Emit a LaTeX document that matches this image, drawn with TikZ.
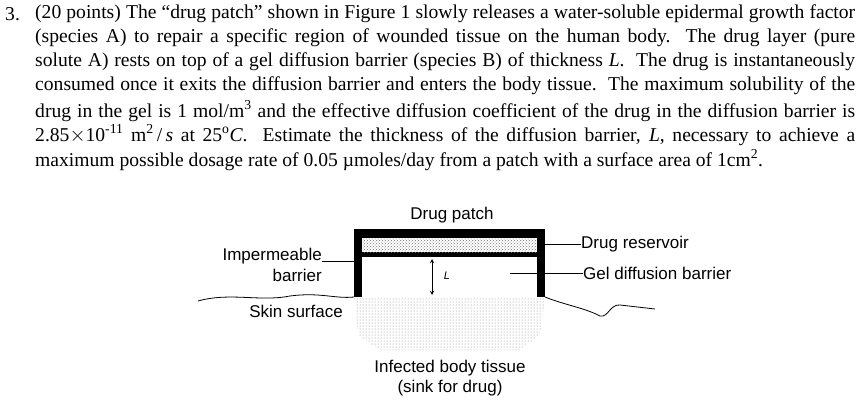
\documentclass[tikz,border=0pt]{standalone}
\usepackage{fontspec}
\setmainfont{Liberation Serif}
\newfontfamily\lab{Liberation Sans}
\usetikzlibrary{patterns}
\tikzset{para/.style={anchor=west,inner sep=0pt,font=\fontsize{19.6}{22}\selectfont},
 lbl/.style={inner sep=0pt,font=\lab\fontsize{17}{19}\selectfont},
 ldr/.style={line width=0.8pt}}
\newcommand{\jline}[1]{\hbox to 820pt{#1}}
\begin{document}
\begin{tikzpicture}[x=1pt,y=-1pt]
\useasboundingbox (0,0) rectangle (864,407);
\node[para] (n3) at (5,14) {3.};
\node[para] (l1) at (35,14) {\jline{(20 points) The ``drug patch'' shown in Figure 1 slowly releases a water-soluble epidermal growth factor}};
\node[para] (l2) at (35,38) {\jline{(species A) to repair a specific region of wounded tissue on the human body.\ \ The drug layer (pure}};
\node[para] (l3) at (35,62) {\jline{solute A) rests on top of a gel diffusion barrier (species B) of thickness \textit{L}.\ \ The drug is instantaneously}};
\node[para] (l4) at (35,86) {\jline{consumed once it exits the diffusion barrier and enters the body tissue.\ \ The maximum solubility of the}};
\node[para] (l5) at (35,111) {\jline{drug in the gel is 1 mol/m\textsuperscript{3} and the effective diffusion coefficient of the drug in the diffusion barrier is}};
\node[para] (l6) at (35,135) {\jline{2.85$\times$10\textsuperscript{-11} m\textsuperscript{2}\,/\,\textit{s} at 25\textsuperscript{o}\textit{C}.\ \ Estimate the thickness of the diffusion barrier, \textit{L}, necessary to achieve a}};
\node[para] (l7) at (35,160) {maximum possible dosage rate of 0.05 \textmu moles/day from a patch with a surface area of 1cm\textsuperscript{2}.};
% tissue
\fill[pattern=dots,pattern color=gray] (354,297) -- (545,297) -- (540,335) -- (520,350) -- (380,350) -- (358,335) -- cycle;
% skin
\draw[line width=0.8pt] (198,301) .. controls (230,292) and (260,302) .. (290,296) .. controls (320,292) and (335,299) .. (354,297);
\draw[line width=0.8pt] (545,297) .. controls (565,305) and (585,308) .. (600,316) .. controls (608,318) and (610,304) .. (620,305) -- (655,309);
% patch
\fill (354,229) rectangle (545,297);
\fill[white] (362,257) rectangle (537,297);
\fill[white] (362,238) rectangle (537,252);
\fill[pattern=crosshatch dots,pattern color=gray!90!black] (362,238) rectangle (537,252);
\coordinate (top) at (432,259);
\coordinate (bot) at (432,295);
\draw[<->,>=stealth,line width=0.9pt] (top) -- (bot);
\node[lbl,font=\lab\itshape\fontsize{11}{12}\selectfont] (L) at (447,276) {L};
\node[lbl] (dp) at (452,215) {Drug patch};
\node[lbl,anchor=west] (dr) at (581,244) {Drug reservoir};
\node[lbl,anchor=west] (gd) at (583,273) {Gel diffusion barrier};
\draw[ldr] (545,244) -- (dr.west);
\draw[ldr] (510,273) -- (gd.west);
\node[lbl,anchor=east] (imp) at (322,256) {Impermeable};
\node[lbl,anchor=east] (bar) at (322,275) {barrier};
\draw[ldr] (imp.east) ++(0,5) coordinate (ie) -- (354,261);
\node[lbl,anchor=east] (sk) at (343,311) {Skin surface};
\node[lbl] (it) at (450,368) {Infected body tissue};
\node[lbl] (sf) at (450,388) {(sink for drug)};
\end{tikzpicture}
\end{document}
